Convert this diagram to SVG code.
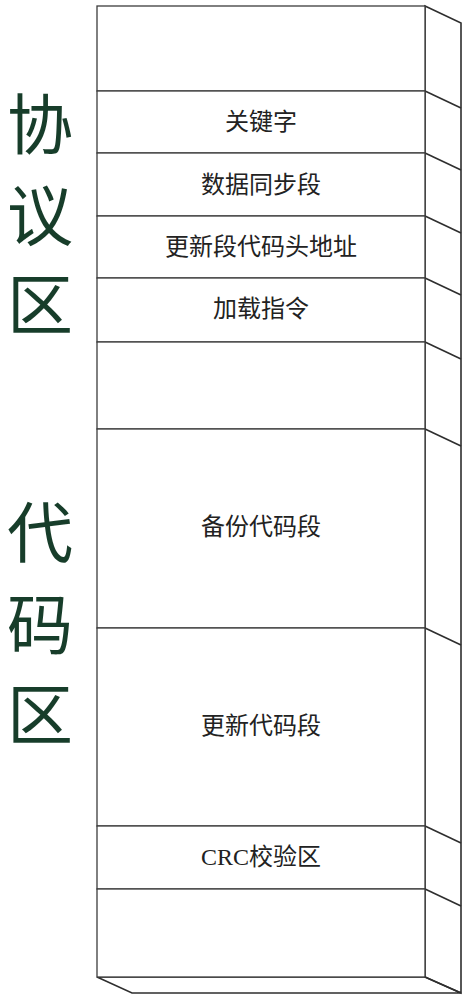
<svg xmlns="http://www.w3.org/2000/svg" width="467" height="1000" viewBox="0 0 467 1000">
<style>
.cell{fill:#ffffff;stroke:#3c3c3c;stroke-width:1.3}
.edge{fill:none;stroke:#2e2e2e;stroke-width:1.6}
.lbl{font-family:"Liberation Serif","Noto Sans CJK SC",sans-serif;font-size:24px;fill:#222;text-anchor:middle;dominant-baseline:central}
.big{font-family:"Noto Sans CJK SC",sans-serif;font-size:66px;fill:#173d2a;text-anchor:middle;dominant-baseline:central}
</style>
<rect width="467" height="1000" fill="#ffffff"/>
<g id="side-faces">
<polygon points="425,6 461,23 461,993 425,977" fill="#ffffff" class="edge"/>
<polygon points="97,977 425,977 461,993 132,993" fill="#ffffff" class="edge"/>
<line class="edge" x1="425" y1="91" x2="461" y2="108"/>
<line class="edge" x1="425" y1="153" x2="461" y2="170"/>
<line class="edge" x1="425" y1="216" x2="461" y2="233"/>
<line class="edge" x1="425" y1="278" x2="461" y2="295"/>
<line class="edge" x1="425" y1="342" x2="461" y2="359"/>
<line class="edge" x1="425" y1="429" x2="461" y2="446"/>
<line class="edge" x1="425" y1="628" x2="461" y2="645"/>
<line class="edge" x1="425" y1="826" x2="461" y2="843"/>
<line class="edge" x1="425" y1="889" x2="461" y2="906"/>
</g>
<g id="cell-top"><rect class="cell" x="97" y="6" width="328" height="85"/></g>
<g id="cell-keyword"><rect class="cell" x="97" y="91" width="328" height="62"/><text class="lbl" x="261" y="122">关键字</text></g>
<g id="cell-sync"><rect class="cell" x="97" y="153" width="328" height="63"/><text class="lbl" x="261" y="185">数据同步段</text></g>
<g id="cell-addr"><rect class="cell" x="97" y="216" width="328" height="62"/><text class="lbl" x="261" y="247">更新段代码头地址</text></g>
<g id="cell-load"><rect class="cell" x="97" y="278" width="328" height="64"/><text class="lbl" x="261" y="309">加载指令</text></g>
<g id="cell-blank"><rect class="cell" x="97" y="342" width="328" height="87"/></g>
<g id="cell-backup"><rect class="cell" x="97" y="429" width="328" height="199"/><text class="lbl" x="261" y="527">备份代码段</text></g>
<g id="cell-update"><rect class="cell" x="97" y="628" width="328" height="198"/><text class="lbl" x="261" y="726">更新代码段</text></g>
<g id="cell-crc"><rect class="cell" x="97" y="826" width="328" height="63"/><text class="lbl" x="261" y="857">CRC校验区</text></g>
<g id="cell-bottom"><rect class="cell" x="97" y="889" width="328" height="88"/></g>
<g id="label-protocol">
<text class="big" x="40" y="120">协</text>
<text class="big" x="40" y="211">议</text>
<text class="big" x="40" y="300">区</text>
</g>
<g id="label-code">
<text class="big" x="40" y="528">代</text>
<text class="big" x="40" y="620">码</text>
<text class="big" x="40" y="710">区</text>
</g>
</svg>
